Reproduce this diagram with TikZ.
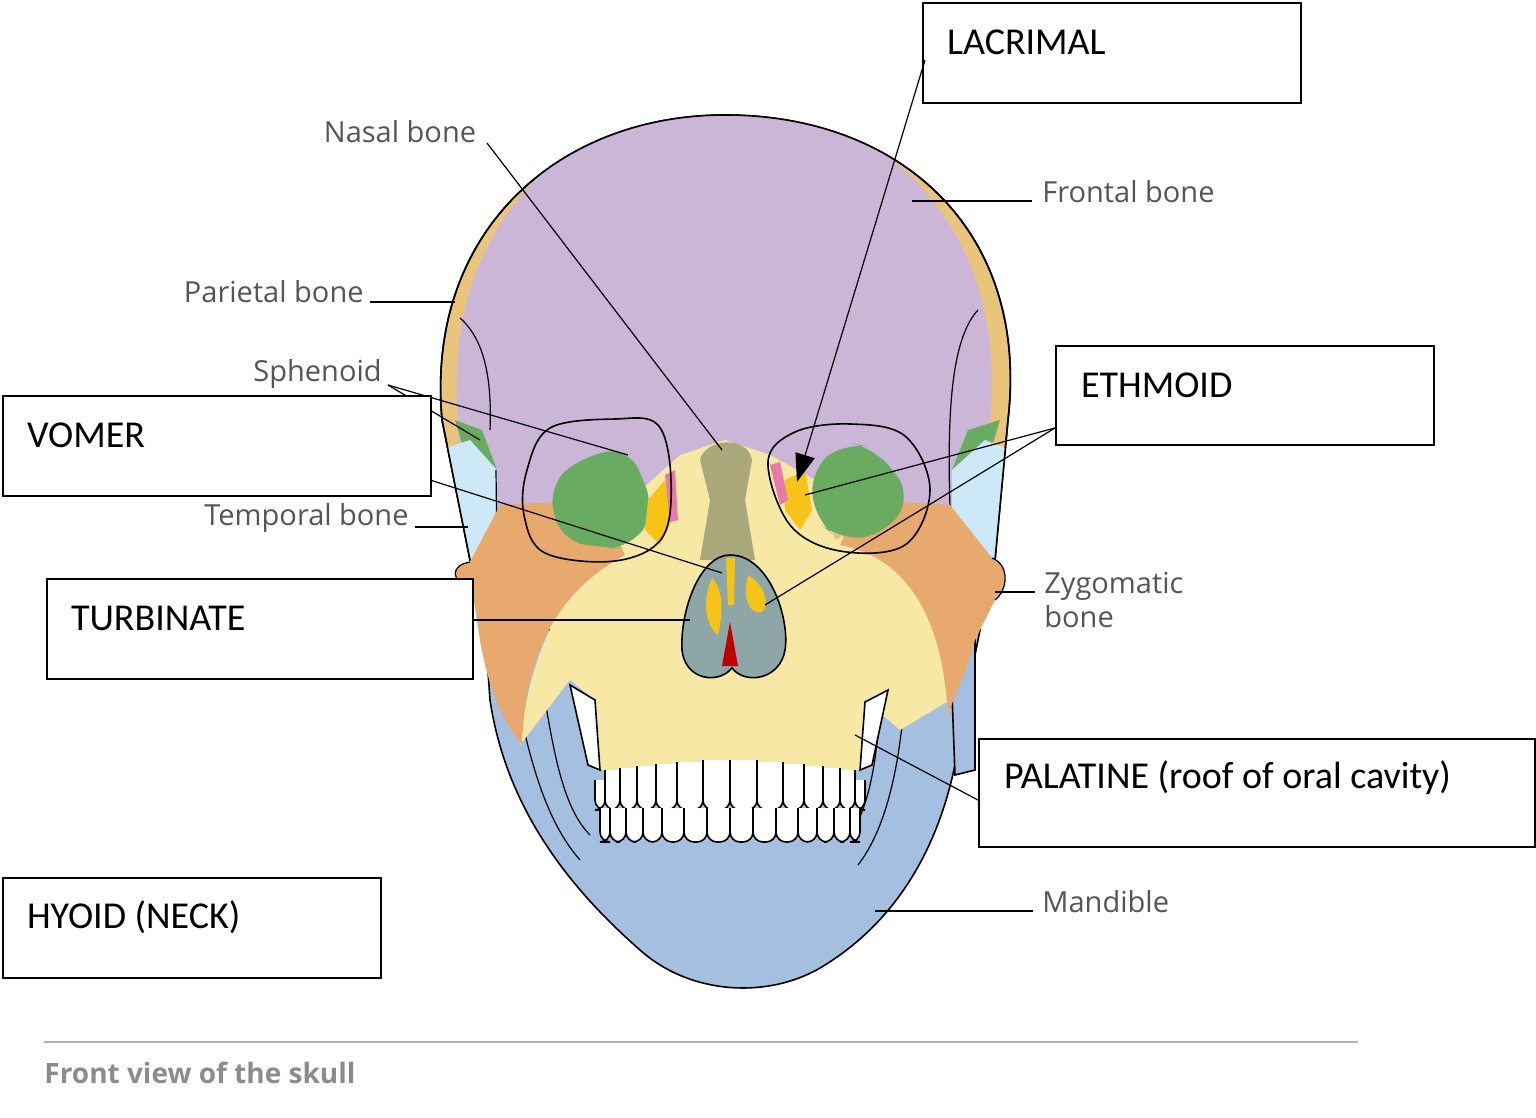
\documentclass[tikz,border=0pt]{standalone}
\usepackage{fontspec}
\setmainfont{Carlito}
\newfontfamily\lab{Open Sans}
\usetikzlibrary{arrows.meta}
\definecolor{purp}{HTML}{CBB6D8}
\definecolor{tan}{HTML}{E9C47C}
\definecolor{ltb}{HTML}{CDE8F7}
\definecolor{grn}{HTML}{6AAB62}
\definecolor{org}{HTML}{E7A96E}
\definecolor{yel}{HTML}{F8E8A6}
\definecolor{blu}{HTML}{A5BFE0}
\definecolor{oli}{HTML}{AAA87B}
\definecolor{cav}{HTML}{8FA6A6}
\definecolor{gold}{HTML}{F6C419}
\definecolor{pnk}{HTML}{E879A8}
\definecolor{txt}{HTML}{555555}
\begin{document}
\begin{tikzpicture}[x=0.5pt,y=-0.5pt,
  ol/.style={draw=black,line width=0.8pt},
  ln/.style={draw=black,line width=0.6pt},
  box/.style={draw=black,line width=0.9pt,fill=white},
  btxt/.style={anchor=west,font=\fontsize{19}{22}\selectfont},
  gtxt/.style={text=txt,font=\lab\fontsize{14.5}{17}\selectfont,inner sep=1pt}]
\useasboundingbox (0,0) rectangle (1536,1118);
% mandible
\path[ol,fill=blu] (485,630) -- (490,700) .. controls (505,800) and (560,880) .. (640,950) .. controls (690,995) and (770,1000) .. (825,965) .. controls (905,915) and (950,830) .. (962,720) -- (980,630) -- cycle;
\draw[ln] (515,690) .. controls (530,760) and (545,820) .. (580,860);
\draw[ln] (545,700) .. controls (555,760) and (565,810) .. (590,835);
\draw[ln] (905,690) .. controls (900,770) and (885,830) .. (858,865);
\draw[ln] (880,700) .. controls (878,760) and (868,810) .. (850,835);
\path[ol,fill=blu] (950,640) -- (975,640) -- (975,770) -- (955,775) -- cycle;
% cranium
\path[ol,fill=tan] (470,560) -- (442,420) .. controls (425,230) and (560,115) .. (725,115) .. controls (900,115) and (1030,230) .. (1008,420) -- (995,560) -- cycle;
\begin{scope}
\clip (470,560) -- (442,420) .. controls (425,230) and (560,115) .. (725,115) .. controls (900,115) and (1030,230) .. (1008,420) -- (995,560) -- cycle;
\fill[purp] (460,520) -- (458,420) .. controls (440,200) and (600,100) .. (725,100) .. controls (850,100) and (1010,200) .. (990,420) -- (988,520) -- cycle;
\fill[grn] (455,420) -- (482,430) -- (497,470) -- (470,470) -- cycle;
\fill[grn] (1000,420) -- (968,430) -- (952,470) -- (985,470) -- cycle;
\fill[ltb] (440,450) -- (470,440) -- (497,470) -- (495,560) -- (460,565) -- cycle;
\fill[ltb] (1010,450) -- (985,440) -- (952,470) -- (952,560) -- (1000,565) -- cycle;
\end{scope}
\draw[ln] (460,318) .. controls (485,340) and (492,380) .. (490,430);
\draw[ln] (978,310) .. controls (950,340) and (945,420) .. (952,555);
\draw[ln] (496,470) -- (497,555);
\path[ol] (470,560) -- (442,420) .. controls (425,230) and (560,115) .. (725,115) .. controls (900,115) and (1030,230) .. (1008,420) -- (995,560);
% maxilla
\path[fill=yel] (520,745) .. controls (530,650) and (560,600) .. (600,560) -- (630,500) -- (680,455) -- (725,440) -- (770,455) -- (815,480) -- (835,540) -- (880,520) .. controls (930,560) and (950,620) .. (950,700) -- (900,730) -- (865,700) -- (860,770) -- (600,770) -- (595,700) -- (570,680) -- cycle;
% zygomatic
\path[fill=org] (470,562) .. controls (450,565) and (450,582) .. (472,588) -- (480,640) .. controls (490,700) and (510,730) .. (522,745) .. controls (525,650) and (560,590) .. (625,555) -- (600,500) -- (500,505) -- cycle;
\path[fill=org] (992,558) .. controls (1010,565) and (1008,590) .. (995,600) -- (975,640) .. controls (965,680) and (950,700) .. (948,720) .. controls (945,640) and (920,560) .. (840,545) -- (860,500) -- (950,505) -- cycle;
\draw[ln] (470,562) .. controls (450,565) and (450,582) .. (472,588);
\draw[ln] (992,558) .. controls (1010,565) and (1008,590) .. (995,600);
% eye sockets
\path[fill=grn,rounded corners=12] (548,485) -- (585,455) -- (630,448) -- (655,510) -- (632,548) -- (602,548) -- (560,540) -- cycle;
\path[fill=grn,rounded corners=12] (810,470) -- (845,442) -- (875,448) -- (912,495) -- (885,535) -- (840,540) -- (815,520) -- cycle;
\fill[gold] (648,500) -- (665,480) -- (672,520) -- (660,545) -- (645,530) -- cycle;
\fill[gold] (785,480) -- (805,470) -- (812,510) -- (800,530) -- (785,510) -- cycle;
\fill[pnk] (665,475) -- (675,470) -- (678,520) -- (670,522) -- cycle;
\fill[pnk] (770,465) -- (780,462) -- (788,500) -- (780,505) -- cycle;
\draw[ol] plot[smooth cycle,tension=0.6] coordinates {(527,470) (550,428) (615,419) (658,425) (671,480) (662,538) (615,561) (545,553) (524,515)};
\draw[ol] plot[smooth cycle,tension=0.6] coordinates {(768,462) (795,432) (850,424) (905,436) (930,490) (905,545) (840,551) (790,525)};
% nasal bone
\path[fill=oli] (700,460) .. controls (705,438) and (748,435) .. (752,460) -- (745,500) -- (755,560) -- (700,560) -- (710,500) -- cycle;
% nasal cavity
\path[ol,fill=cav] (730,555) .. controls (770,555) and (790,620) .. (785,650) .. controls (780,680) and (745,685) .. (732,668) .. controls (718,685) and (685,680) .. (682,650) .. controls (680,610) and (700,555) .. (730,555);
\fill[gold] (726,558) -- (735,558) -- (734,605) -- (728,605) -- cycle;
\fill[gold] (712,578) .. controls (725,590) and (722,620) .. (718,635) .. controls (705,625) and (702,600) .. (712,578);
\fill[gold] (748,575) .. controls (765,585) and (770,605) .. (762,612) .. controls (750,615) and (742,600) .. (748,575);
\fill[red!75!black] (730,622) -- (738,666) -- (722,666) -- cycle;
% teeth
\path[ol,fill=white] (570,685) -- (595,700) -- (600,770) -- (588,765) -- cycle;
\path[ol,fill=white] (888,690) -- (865,702) -- (860,770) -- (872,765) -- cycle;
\foreach \a/\b/\t in {595/605/780,605/620/770,620/637/768,637/656/766,656/677/764,677/703/762,703/730/760,730/757/760,757/783/762,783/804/764,804/823/766,823/840/768,840/855/770,855/865/780}{
  \draw[ol,fill=white,rounded corners=5] (\a,\t) -- (\a,810) -- (\b,810) -- (\b,\t);
}
\foreach \a/\b in {600/610,610/626,626/643,643/662,662/684,684/707,707/730,730/753,753/776,776/798,798/817,817/834,834/850,850/860}{
  \draw[ol,fill=white,rounded corners=5] (\a,808) -- (\a,842) -- (\b,842) -- (\b,808);
}
% leader lines
\draw[ln] (487,143) -- (722,450);
\draw[ln] (912,201) -- (1032,201);
\draw[ln] (370,302) -- (455,302);
\draw[ln] (388,385) -- (480,440);
\draw[ln] (388,385) -- (628,455);
\draw[ln] (415,527) -- (468,527);
\draw[ln] (995,592) -- (1035,592);
\draw[ln] (875,911) -- (1033,911);
% boxes
\node[box,minimum width=378*0.5pt,minimum height=100*0.5pt,anchor=north west] (lac) at (922,2) {};
\node[box,minimum width=378*0.5pt,minimum height=99*0.5pt,anchor=north west] (eth) at (1055,345) {};
\node[box,minimum width=428*0.5pt,minimum height=100*0.5pt,anchor=north west] (vom) at (2,395) {};
\node[box,minimum width=426*0.5pt,minimum height=100*0.5pt,anchor=north west] (tur) at (46,578) {};
\node[box,minimum width=556*0.5pt,minimum height=108*0.5pt,anchor=north west] (pal) at (978,738) {};
\node[box,minimum width=378*0.5pt,minimum height=100*0.5pt,anchor=north west] (hyo) at (2,877) {};
\node[btxt] at (940,42) {LACRIMAL};
\node[btxt] at (1074,385) {ETHMOID};
\node[btxt] at (20,435) {VOMER};
\node[btxt] at (64,618) {TURBINATE};
\node[btxt] at (997,778) {PALATINE (roof of oral cavity)};
\node[btxt] at (20,917) {HYOID (NECK)};
\coordinate (lacT) at (797,482);
\coordinate (ethA) at (805,495);
\coordinate (ethB) at (765,605);
\coordinate (vomT) at (722,573);
\coordinate (turT) at (690,620);
\coordinate (palT) at (855,735);
\draw[ln,-{Triangle[length=14pt,width=10pt]}] (925,60) -- (lacT);
\draw[ln] (1055,428) -- (ethA);
\draw[ln] (1055,428) -- (ethB);
\draw[ln] (430,480) -- (vomT);
\draw[ln] (472,620) -- (turT);
\draw[ln] (978,800) -- (palT);
% gray labels
\node[gtxt,anchor=south] at (400,145) {Nasal bone};
\node[gtxt,anchor=west] at (1040,192) {Frontal bone};
\node[gtxt,anchor=east] at (366,292) {Parietal bone};
\node[gtxt,anchor=east] at (384,374) {Sphenoid};
\node[gtxt,anchor=east] at (411,518) {Temporal bone};
\node[gtxt,anchor=west,align=left] at (1042,600) {Zygomatic\\bone};
\node[gtxt,anchor=west] at (1040,902) {Mandible};
\draw[gray!60,line width=1pt] (44,1042) -- (1358,1042);
\node[anchor=west,text=gray!90,font=\lab\bfseries\fontsize{14}{16}\selectfont,inner sep=0pt] at (44,1073) {Front view of the skull};
\end{tikzpicture}
\end{document}
